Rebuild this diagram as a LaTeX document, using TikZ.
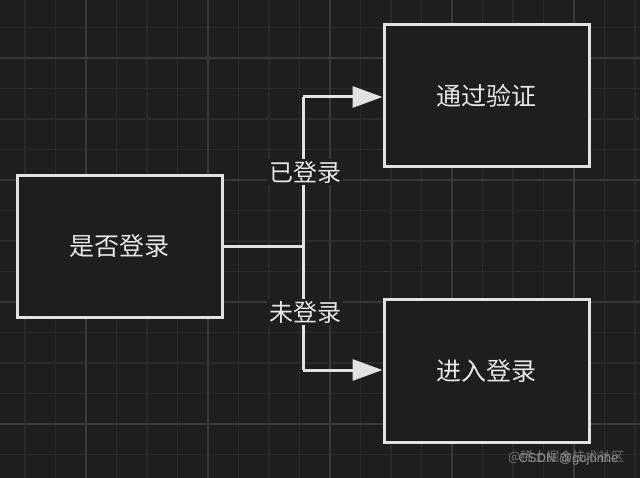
\documentclass[tikz,border=0pt]{standalone}
\usepackage{fontspec}
\newfontfamily\cjk{Noto Sans CJK SC}
\usetikzlibrary{arrows.meta}
\definecolor{bgc}{HTML}{1E1E1E}
\definecolor{minorc}{HTML}{2A2A2A}
\definecolor{majorc}{HTML}{393939}
\definecolor{linec}{HTML}{E2E2E2}
\definecolor{txtc}{HTML}{E6E6E6}
\tikzset{
  box/.style={draw=linec, line width=3pt, fill=bgc, minimum width=205pt, minimum height=142pt, inner sep=0pt, text=txtc, font=\cjk\fontsize{25}{25}\selectfont},
  conn/.style={draw=linec, line width=3pt},
  arr/.style={conn, -{Triangle[length=30pt,width=21pt,fill=linec]}},
  lbl/.style={fill=bgc, text=txtc, inner sep=2pt, font=\cjk\fontsize{24}{24}\selectfont}
}
\begin{document}
\begin{tikzpicture}[x=1pt,y=-1pt]
\fill[bgc] (0,0) rectangle (640,478);
\useasboundingbox (0,0) rectangle (640,478);
% minor grid
\foreach \i in {-2,...,22} {
  \draw[minorc, line width=1.2pt] ({86+30.5*\i},0) -- ({86+30.5*\i},478);
}
\foreach \i in {-2,...,16} {
  \draw[minorc, line width=1.2pt] (0,{58+30.5*\i}) -- (640,{58+30.5*\i});
}
% major grid
\foreach \i in {0,...,4} {
  \draw[majorc, line width=2pt] ({86+122*\i},0) -- ({86+122*\i},478);
}
\foreach \i in {0,...,3} {
  \draw[majorc, line width=2pt] (0,{58+122*\i}) -- (640,{58+122*\i});
}
% nodes
\node[box] (q) at (119.5,246.5) {是否登录};
\node[box] (ok) at (486.5,95.5) {通过验证};
\node[box] (login) at (486.5,371) {进入登录};
\coordinate (j) at (303,246.5);
\coordinate (t) at (303,97);
\coordinate (b) at (303,370);
\draw[conn] (q.east) -- (j);
\draw[conn] (j) -- (t);
\draw[conn] (j) -- (b);
\draw[arr] (t) -- (ok.west |- t);
\draw[arr] (b) -- (login.west |- b);
\node[lbl] (l1) at (305,172) {已登录};
\node[lbl] (l2) at (305,312) {未登录};
% watermark
\node[text=gray!70, font=\cjk\fontsize{13}{13}\selectfont, anchor=east, opacity=0.6] (wm1) at (628,457) {@稀土掘金技术社区};
\node[text=gray!90!white, font=\fontspec{Liberation Sans}\fontsize{13}{13}\selectfont, anchor=east] (wm2) at (622,459) {CSDN @gujunhe};
\end{tikzpicture}
\end{document}
